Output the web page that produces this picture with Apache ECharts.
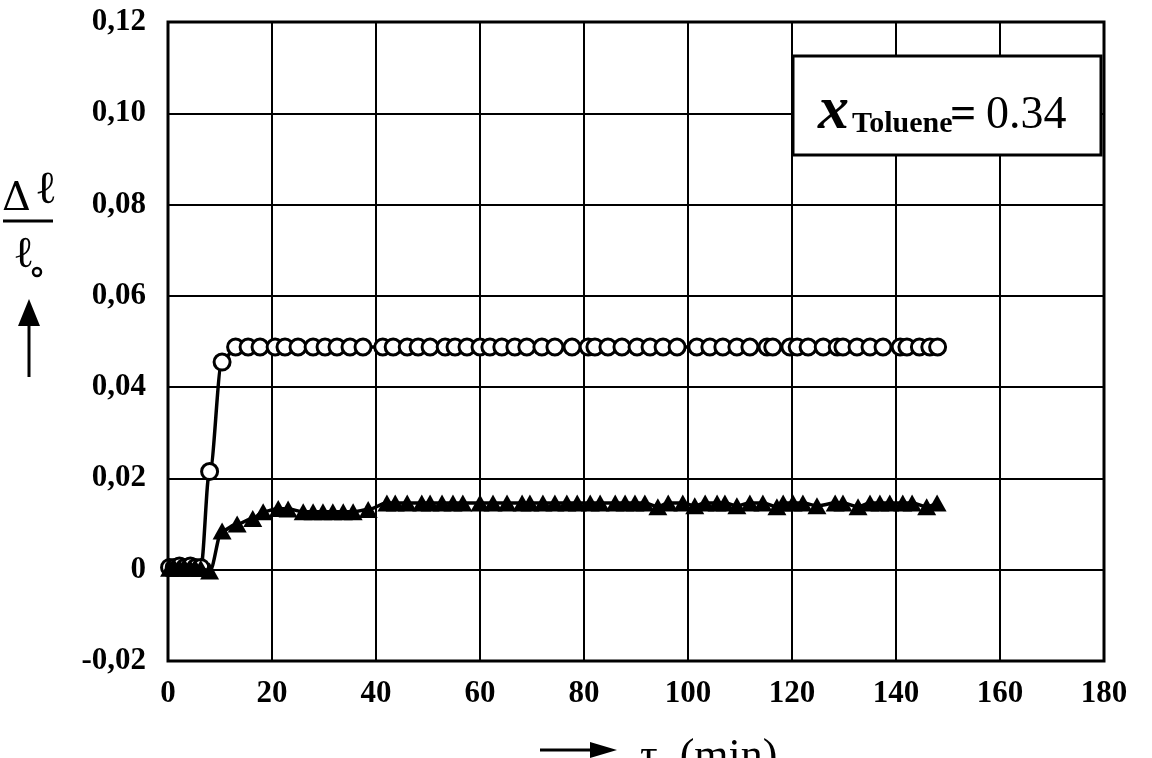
<!DOCTYPE html>
<html>
<head>
<meta charset="utf-8">
<script src="https://cdn.jsdelivr.net/npm/echarts@6/dist/echarts.min.js"></script>
<style>
html,body{margin:0;padding:0;background:#fff;}
#chart{width:1152px;height:758px;}
</style>
</head>
<body>
<div id="chart"></div>
<script>
// ---- data ----
const circleTimes = [0.3, 1.2, 2.2, 3.2, 4.3, 5.3, 6.3, 8.0, 10.4,
  13.0, 15.4, 17.7, 20.6, 22.5, 25.0, 27.9, 30.2, 32.5, 35.0,
  37.5, 41.3, 43.3, 46.0, 48.1, 50.4, 53.3, 55.2, 57.5, 60.0,
  61.9, 64.2, 66.7, 69.0, 71.9, 74.4, 77.7, 80.8, 82.1, 84.6,
  87.3, 90.2, 92.7, 95.2, 97.9, 101.7, 104.2, 106.7, 109.4, 111.9,
  115.2, 116.3, 119.6, 121.0, 123.1, 126.0, 128.7, 129.8, 132.5, 135.0,
  137.5, 140.8, 142.1, 144.5, 146.5, 148.0];
const circleValues = [0.0005, 0.0005, 0.0008, 0.0005, 0.0008, 0.0005, 0.0005, 0.0215, 0.0455,
  0.0488, 0.0488, 0.0488, 0.0488, 0.0488, 0.0488, 0.0488, 0.0488, 0.0488, 0.0488,
  0.0488, 0.0488, 0.0488, 0.0488, 0.0488, 0.0488, 0.0488, 0.0488, 0.0488, 0.0488,
  0.0488, 0.0488, 0.0488, 0.0488, 0.0488, 0.0488, 0.0488, 0.0488, 0.0488, 0.0488,
  0.0488, 0.0488, 0.0488, 0.0488, 0.0488, 0.0488, 0.0488, 0.0488, 0.0488, 0.0488,
  0.0488, 0.0488, 0.0488, 0.0488, 0.0488, 0.0488, 0.0488, 0.0488, 0.0488, 0.0488,
  0.0488, 0.0488, 0.0488, 0.0488, 0.0488, 0.0488];

const triangleTimes = [0.3, 1.3, 2.3, 3.3, 4.3, 5.3, 6.3, 8.0, 10.4,
  13.3, 16.3, 18.3, 21.2, 23.1, 26.0, 27.9, 29.8, 31.7, 33.7, 35.6, 38.5,
  42.1, 43.7, 46.0, 48.8, 50.4, 52.7, 54.8, 56.7, 60.0, 62.5, 65.2, 68.1, 69.6, 72.1, 74.4,
  76.7, 78.7, 81.2, 83.1, 86.0, 87.9, 89.8, 91.7, 94.2, 96.2, 99.0, 101.3, 103.3, 105.6,
  107.1, 109.4, 111.9, 114.4, 117.1, 118.3, 120.2, 122.1, 124.8, 128.3, 129.8, 132.7,
  135.0, 136.9, 138.8, 141.3, 143.1, 145.9, 147.9];
const triangleValues = [0.0003, 0.0003, 0.0003, 0.0003, 0.0003, 0.0003, 0.0003, -0.0003, 0.0085,
  0.0100, 0.0112, 0.0127, 0.0134, 0.0133, 0.0127, 0.0127, 0.0127, 0.0127, 0.0127, 0.0127, 0.0132,
  0.0146, 0.0146, 0.0146, 0.0146, 0.0146, 0.0146, 0.0146, 0.0146, 0.0146, 0.0146, 0.0146, 0.0146, 0.0146, 0.0146, 0.0146,
  0.0146, 0.0146, 0.0146, 0.0146, 0.0146, 0.0146, 0.0146, 0.0146, 0.0138, 0.0146, 0.0146, 0.0140, 0.0146, 0.0146,
  0.0146, 0.0140, 0.0146, 0.0146, 0.0138, 0.0146, 0.0146, 0.0146, 0.0140, 0.0146, 0.0146, 0.0138,
  0.0146, 0.0146, 0.0146, 0.0146, 0.0146, 0.0138, 0.0146];

const xTickLabels = ['0', '20', '40', '60', '80', '100', '120', '140', '160', '180'];
const yTickLabels = ['-0,02', '0', '0,02', '0,04', '0,06', '0,08', '0,10', '0,12'];
const legendLabel = { base: 'x', sub: 'Toluene', eq: '=', value: '0.34' };

function zip(xs, ys) { return xs.map((x, i) => [x, ys[i]]); }

const chart = echarts.init(document.getElementById('chart'), null, { renderer: 'canvas' });
const serif = '"Liberation Serif", "Times New Roman", serif';

chart.setOption({
  backgroundColor: '#fff',
  animation: false,
  grid: { left: 168, right: 48, top: 22, bottom: 97, show: true, borderColor: '#000', borderWidth: 3, backgroundColor: 'transparent' },
  xAxis: {
    type: 'value', min: 0, max: 180, interval: 20,
    axisLine: { show: false },
    axisTick: { show: false },
    splitLine: { show: true, lineStyle: { color: '#000', width: 2 } },
    axisLabel: {
      margin: 17, color: '#000', fontFamily: serif, fontWeight: 'bold', fontSize: 31,
      formatter: (v) => xTickLabels[Math.round(v / 20)]
    }
  },
  yAxis: {
    type: 'value', min: -0.02, max: 0.12, interval: 0.02,
    axisLine: { show: false },
    axisTick: { show: false },
    splitLine: { show: true, lineStyle: { color: '#000', width: 2 } },
    axisLabel: {
      margin: 22, color: '#000', fontFamily: serif, fontWeight: 'bold', fontSize: 31,
      formatter: (v) => yTickLabels[Math.round((v + 0.02) / 0.02)]
    }
  },
  series: [
    {
      type: 'line', data: zip(circleTimes, circleValues),
      smooth: 0.35, smoothMonotone: 'x',
      symbol: 'circle', symbolSize: 16, showAllSymbol: true,
      lineStyle: { color: '#000', width: 3.5 },
      itemStyle: { color: '#fff', borderColor: '#000', borderWidth: 3 },
      z: 3
    },
    {
      type: 'line', data: zip(triangleTimes, triangleValues),
      smooth: 0.35, smoothMonotone: 'x',
      symbol: 'triangle', symbolSize: [19, 17], showAllSymbol: true,
      lineStyle: { color: '#000', width: 3.5 },
      itemStyle: { color: '#000', borderColor: '#000', borderWidth: 0 },
      z: 4
    }
  ],
  graphic: [
    // legend box
    { type: 'rect', z: 100, shape: { x: 793, y: 56, width: 308, height: 99 },
      style: { fill: '#fff', stroke: '#000', lineWidth: 3 } },
    { type: 'text', z: 101, x: 818, y: 112,
      style: { text: legendLabel.base, font: 'italic bold 62px ' + serif, fill: '#000', verticalAlign: 'middle', align: 'left' } },
    { type: 'text', z: 101, x: 852, y: 124,
      style: { text: legendLabel.sub, font: 'bold 30px ' + serif, fill: '#000', verticalAlign: 'middle', align: 'left' } },
    { type: 'text', z: 101, x: 950, y: 116,
      style: { text: legendLabel.eq, font: 'bold 46px ' + serif, fill: '#000', verticalAlign: 'middle', align: 'left' } },
    { type: 'text', z: 101, x: 986, y: 116,
      style: { text: legendLabel.value, font: '46px ' + serif, fill: '#000', verticalAlign: 'middle', align: 'left' } },
    // y-axis title: Δℓ / ℓo with up arrow
    { type: 'text', z: 101, x: 2, y: 200,
      style: { text: 'Δ', font: '40px "DejaVu Serif", serif', fill: '#000', verticalAlign: 'middle' } },
    { type: 'text', z: 101, x: 35, y: 191,
      style: { text: 'ℓ', font: '46px ' + serif, fill: '#000', verticalAlign: 'middle' } },
    { type: 'line', z: 101, shape: { x1: 3, y1: 221, x2: 53, y2: 221 }, style: { stroke: '#000', lineWidth: 3 } },
    { type: 'text', z: 101, x: 13, y: 255,
      style: { text: 'ℓ', font: '44px ' + serif, fill: '#000', verticalAlign: 'middle' } },
    { type: 'circle', z: 101, shape: { cx: 37, cy: 272, r: 4 }, style: { fill: 'none', stroke: '#000', lineWidth: 2.5 } },
    { type: 'line', z: 101, shape: { x1: 29, y1: 377, x2: 29, y2: 318 }, style: { stroke: '#000', lineWidth: 3 } },
    { type: 'polygon', z: 101, shape: { points: [[18, 326], [40, 326], [29, 299]] }, style: { fill: '#000' } },
    // x-axis title: arrow and τ (min)
    { type: 'line', z: 101, shape: { x1: 540, y1: 750, x2: 596, y2: 750 }, style: { stroke: '#000', lineWidth: 3 } },
    { type: 'polygon', z: 101, shape: { points: [[590, 742], [617, 750], [590, 758]] }, style: { fill: '#000' } },
    { type: 'text', z: 101, x: 640, y: 757,
      style: { text: 'τ  (min)', font: '44px ' + serif, fill: '#000', verticalAlign: 'middle' } }
  ]
});
</script>
</body>
</html>
